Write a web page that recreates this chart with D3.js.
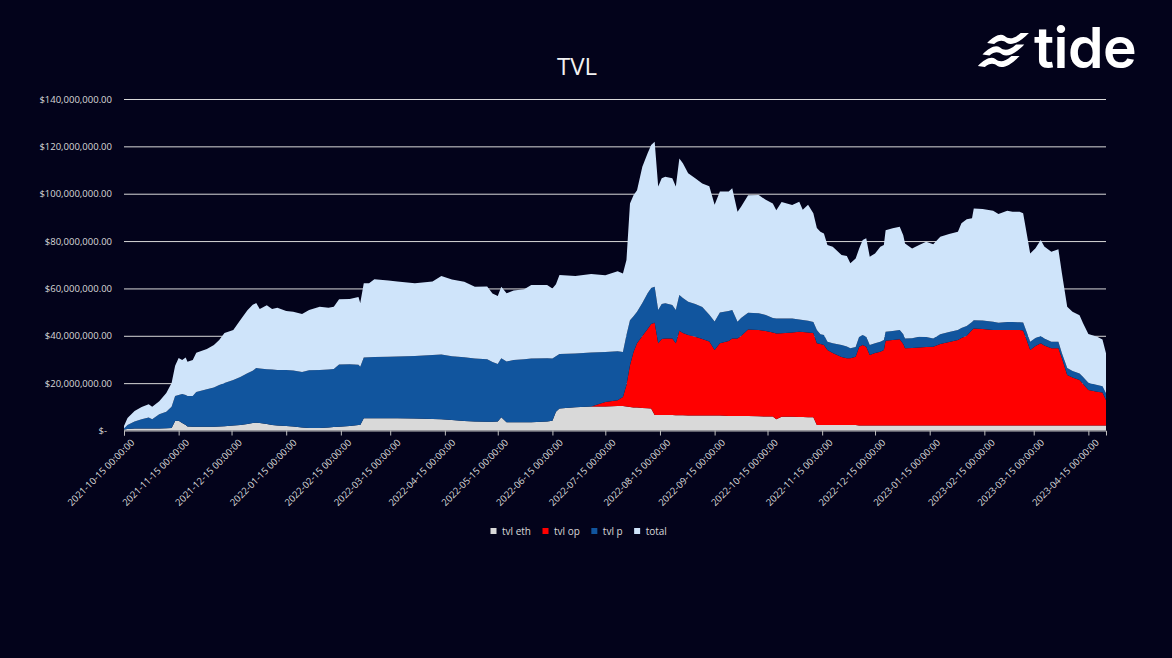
<!DOCTYPE html>
<html>
<head>
<meta charset="utf-8">
<script src="https://cdn.jsdelivr.net/npm/d3@7"></script>
<style>
  html, body { margin: 0; padding: 0; background: #03031b; }
  svg { display: block; }
</style>
</head>
<body>
<svg id="chart" width="1172" height="658"></svg>
<script>
// dates of the samples
var dates = [
  "2021-10-15","2021-10-17","2021-10-21","2021-10-25","2021-10-29","2021-10-31","2021-11-04","2021-11-08","2021-11-11","2021-11-13",
  "2021-11-15","2021-11-17","2021-11-19","2021-11-20","2021-11-23","2021-11-25","2021-12-01","2021-12-05","2021-12-08","2021-12-11",
  "2021-12-16","2021-12-20","2021-12-24","2021-12-27","2021-12-29","2021-12-31","2022-01-04","2022-01-07","2022-01-10","2022-01-15",
  "2022-01-19","2022-01-24","2022-01-28","2022-02-03","2022-02-08","2022-02-11","2022-02-14","2022-02-20","2022-02-25","2022-02-26",
  "2022-02-28","2022-03-03","2022-03-06","2022-03-14","2022-03-19","2022-03-29","2022-04-08","2022-04-13","2022-04-19","2022-04-26",
  "2022-05-02","2022-05-09","2022-05-12","2022-05-15","2022-05-17","2022-05-20","2022-05-24","2022-05-30","2022-06-03","2022-06-12",
  "2022-06-15","2022-06-17","2022-06-19","2022-06-28","2022-07-07","2022-07-15","2022-07-22","2022-07-25","2022-07-27","2022-07-29",
  "2022-07-31","2022-08-02","2022-08-05","2022-08-08","2022-08-10","2022-08-12","2022-08-14","2022-08-16","2022-08-18","2022-08-22",
  "2022-08-24","2022-08-26","2022-08-28","2022-08-31","2022-09-04","2022-09-08","2022-09-12","2022-09-15","2022-09-18","2022-09-23",
  "2022-09-25","2022-09-28","2022-09-30","2022-10-04","2022-10-10","2022-10-14","2022-10-18","2022-10-20","2022-10-23","2022-10-29",
  "2022-11-02","2022-11-04","2022-11-07","2022-11-10","2022-11-12","2022-11-14","2022-11-16","2022-11-18","2022-11-21","2022-11-26",
  "2022-11-29","2022-12-01","2022-12-04","2022-12-06","2022-12-08","2022-12-10","2022-12-12","2022-12-15","2022-12-18","2022-12-20",
  "2022-12-21","2022-12-25","2022-12-29","2022-12-31","2023-01-01","2023-01-05","2023-01-09","2023-01-13","2023-01-17","2023-01-21",
  "2023-01-26","2023-01-31","2023-02-02","2023-02-05","2023-02-08","2023-02-09","2023-02-14","2023-02-20","2023-02-23","2023-02-28",
  "2023-03-03","2023-03-07","2023-03-09","2023-03-11","2023-03-13","2023-03-16","2023-03-19","2023-03-21","2023-03-25","2023-03-29",
  "2023-03-31","2023-04-03","2023-04-06","2023-04-10","2023-04-12","2023-04-15","2023-04-20","2023-04-23","2023-04-25"
];

// series values, millions of dollars
var tvlEth = [
  0.4,0.6,0.8,0.8,0.8,0.8,0.8,0.9,1.1,4.0,
  4.1,3.2,2.3,1.7,1.6,1.6,1.6,1.6,1.7,1.8,
  2.1,2.3,2.7,3.2,3.3,3.2,2.7,2.3,2.1,1.9,
  1.7,1.3,1.1,1.1,1.3,1.5,1.6,1.9,2.3,2.3,
  5.2,5.2,5.2,5.2,5.2,5.1,4.9,4.7,4.4,4.0,
  3.8,3.7,3.7,3.8,5.6,3.5,3.5,3.5,3.5,3.8,
  4.1,7.9,9.3,9.8,10.1,10.1,10.3,10.3,10.1,9.9,
  9.7,9.7,9.5,9.4,9.3,6.5,6.5,6.5,6.5,6.5,
  6.4,6.4,6.4,6.3,6.3,6.3,6.3,6.3,6.3,6.1,
  6.1,6.1,6.1,6.1,6.0,5.9,5.9,4.7,5.8,5.8,
  5.7,5.7,5.6,5.6,2.3,2.3,2.3,2.3,2.3,2.3,
  2.3,2.3,2.3,2.1,2.1,2.1,2.1,2.1,2.1,2.1,
  2.1,2.1,2.1,2.1,2.1,2.1,2.1,2.1,2.1,2.1,
  2.1,2.1,2.1,2.1,2.1,2.1,2.1,2.1,2.1,2.1,
  2.1,2.1,2.1,2.1,2.1,2.1,2.1,2.1,2.1,2.1,
  2.1,2.1,2.1,2.1,2.1,2.1,2.1,2.1,2.1
];

var tvlOp = [
  0,0,0,0,0,0,0,0,0,0,
  0,0,0,0,0,0,0,0,0,0,
  0,0,0,0,0,0,0,0,0,0,
  0,0,0,0,0,0,0,0,0,0,
  0,0,0,0,0,0,0,0,0,0,
  0,0,0,0,0,0,0,0,0,0,
  0,0,0,0,0,1.9,2.5,3.9,9.1,17.7,
  23.4,27.2,30.4,33.5,35.7,39.0,30.3,32.1,32.4,32.4,
  30.4,35.7,34.8,34.0,33.3,32.3,31.3,27.7,30.6,31.7,
  32.8,32.8,33.8,36.6,36.4,36.1,35.5,36.3,35.3,35.6,
  36.0,35.9,35.8,35.6,34.5,34.2,33.8,31.7,30.4,28.7,
  28.2,28.2,28.8,33.3,34.0,33.3,29.8,30.6,31.2,31.9,
  35.8,36.1,36.4,34.4,32.6,32.7,33.0,33.2,33.3,34.4,
  35.3,36.1,37.0,37.9,40.3,41.0,40.8,40.3,40.3,40.3,
  40.3,40.3,40.1,36.1,31.9,33.6,34.7,33.8,32.6,32.6,
  28.4,21.3,20.3,19.2,17.5,15.0,14.3,13.9,10.8
];

var tvlP = [
  0.4,1.7,3.0,4.0,4.7,4.0,6.1,7.0,8.9,10.6,
  10.9,12.2,12.7,12.9,13.0,14.7,15.8,16.6,17.5,18.3,
  19.2,20.3,21.5,22.0,23.1,23.0,23.2,23.5,23.4,23.6,
  23.6,23.4,24.3,24.5,24.5,24.5,26.3,26.1,25.5,24.6,
  25.6,25.7,25.8,25.9,26.0,26.4,27.0,27.4,27.0,26.9,
  26.6,26.4,25.2,24.3,24.9,25.6,26.3,26.6,26.9,26.7,
  26.3,23.5,23.0,22.7,22.8,21.1,20.7,19.0,21.1,19.0,
  15.2,13.2,13.9,15.1,15.2,15.2,14.1,14.8,14.8,14.1,
  14.1,15.1,14.8,14.1,13.8,13.6,11.3,12.0,12.9,12.7,
  12.0,7.0,7.6,7.0,7.1,6.8,6.1,6.3,6.2,5.9,
  5.2,5.1,4.9,4.6,5.6,4.2,4.2,3.5,4.2,5.1,
  5.0,4.2,4.2,4.2,4.2,4.2,4.2,4.2,4.2,4.2,
  3.8,3.8,3.9,4.2,4.2,4.2,4.5,4.2,3.5,4.2,
  4.2,4.2,4.2,4.1,3.4,3.5,3.6,3.5,3.1,3.4,
  3.4,3.3,3.4,3.4,3.5,3.4,3.1,3.0,2.8,2.8,
  2.1,3.0,2.7,2.8,3.0,3.1,2.8,2.7,2.8
];

var total = [
  1.1,3.0,4.4,5.1,5.6,5.2,5.5,7.9,10.1,12.7,
  15.6,14.4,15.8,14.4,15.2,16.5,17.0,17.9,19.0,21.1,
  21.1,24.1,26.6,27.9,27.4,25.1,27.0,25.5,26.3,25.0,
  24.9,24.5,25.5,26.7,26.0,26.3,27.5,27.5,28.6,26.9,
  31.4,31.3,32.9,32.2,31.7,30.7,31.0,33.1,32.4,31.9,
  30.3,30.7,29.0,28.7,30.2,28.9,29.3,29.6,31.0,31.0,
  29.6,30.4,33.4,32.7,33.2,32.5,33.8,33.1,31.7,49.3,
  51.1,51.4,57.6,59.1,60.4,61.2,52.1,53.1,53.5,53.5,
  52.1,57.7,56.9,54.2,53.1,52.1,54.2,49.3,51.1,50.4,
  51.4,46.5,47.0,49.7,50.0,48.6,48.4,45.7,49.2,47.9,
  49.7,46.5,49.0,45.9,43.1,43.2,42.9,40.8,40.7,38.0,
  38.2,35.9,37.3,37.3,40.1,41.6,37.3,37.9,40.1,40.1,
  42.9,43.4,43.6,41.8,40.1,37.9,38.7,40.2,39.8,41.1,
  41.4,41.5,44.2,45.1,43.8,47.2,47.0,46.9,45.9,47.0,
  46.6,46.7,46.1,41.7,37.3,37.9,40.5,38.8,38.0,39.0,
  33.8,25.9,25.0,24.6,22.7,20.6,20.4,19.7,16.9
];

var seriesNames = ["tvl eth", "tvl op", "tvl p", "total"];
var seriesColors = ["#d9d9d9", "#ff0000", "#11559e", "#cfe4fa"];
var yTicks = [0, 20, 40, 60, 80, 100, 120, 140];
var xTickDates = [
  "2021-10-15","2021-11-15","2021-12-15","2022-01-15","2022-02-15","2022-03-15","2022-04-15",
  "2022-05-15","2022-06-15","2022-07-15","2022-08-15","2022-09-15","2022-10-15","2022-11-15",
  "2022-12-15","2023-01-15","2023-02-15","2023-03-15","2023-04-15"
];
var xStart = "2021-10-15", xEnd = "2023-04-25";

var parse = d3.timeParse("%Y-%m-%d");
var font = "'Open Sans', sans-serif";
var labelColor = "#d9d9d9";

// chart area
var margin = { top: 99, left: 124, right: 66, bottom: 227.5 };
var W = 1172, H = 658;
var width = W - margin.left - margin.right;
var height = H - margin.top - margin.bottom;

var svg = d3.select("#chart");

// build table for stacking
var rows = dates.map(function(d, i) {
  return { date: parse(d), "tvl eth": tvlEth[i], "tvl op": tvlOp[i], "tvl p": tvlP[i], "total": total[i] };
});

var x = d3.scaleTime()
  .domain([parse(xStart), parse(xEnd)])
  .range([0, width]);

var y = d3.scaleLinear()
  .domain([0, 140])
  .range([height, 0]);

var color = d3.scaleOrdinal().domain(seriesNames).range(seriesColors);

var g = svg.append("g")
  .attr("transform", "translate(" + margin.left + "," + margin.top + ")");

// gridlines + y labels
var moneyFmt = d3.format(",.2f");
var yAxis = d3.axisLeft(y)
  .tickValues(yTicks)
  .tickSize(-width)
  .tickPadding(12)
  .tickFormat(function(v) { return v === 0 ? "$-" : "$" + moneyFmt(v * 1e6); });

var yg = g.append("g").attr("class", "y-axis").call(yAxis);
yg.select(".domain").remove();
yg.selectAll(".tick line")
  .attr("stroke", "#d9d9d9")
  .attr("stroke-width", 1)
  .filter(function(d) { return d === 0; }).remove();
yg.selectAll(".tick text")
  .attr("fill", labelColor)
  .style("font-family", font)
  .style("font-size", "9.5px")
  .attr("dx", function(d) { return d === 0 ? -5 : 0; });

// stacked areas
var stack = d3.stack().keys(seriesNames);
var layers = stack(rows);

var area = d3.area()
  .x(function(d) { return x(d.data.date); })
  .y0(function(d) { return y(d[0]); })
  .y1(function(d) { return y(d[1]); });

g.selectAll(".layer")
  .data(layers)
  .enter()
  .append("path")
  .attr("class", "layer")
  .attr("d", area)
  .attr("fill", function(d) { return color(d.key); })
  .attr("stroke", "none");

// x axis
var timeFmt = d3.timeFormat("%Y-%m-%d 00:00:00");
var xAxis = d3.axisBottom(x)
  .tickValues(xTickDates.map(parse))
  .tickSize(5)
  .tickPadding(3)
  .tickFormat(timeFmt);

var xg = g.append("g")
  .attr("class", "x-axis")
  .attr("transform", "translate(0," + height + ")")
  .call(xAxis);
xg.select(".domain").attr("stroke", "#bfbfbf");
xg.selectAll(".tick line").attr("stroke", "#bfbfbf");
xg.selectAll(".tick text")
  .attr("fill", labelColor)
  .style("font-family", font)
  .style("font-size", "9.5px")
  .attr("text-anchor", "end")
  .attr("dy", 0)
  .attr("transform", "translate(5,7) rotate(-45)");

// title
svg.append("text")
  .attr("x", 577)
  .attr("y", 74.5)
  .attr("text-anchor", "middle")
  .attr("fill", "#f2f2f2")
  .style("font-family", font)
  .style("font-size", "24px")
  .text("TVL");

// legend
var legend = svg.append("g").attr("class", "legend");
var lx = 490.5;
seriesNames.forEach(function(name) {
  legend.append("rect")
    .attr("x", lx)
    .attr("y", 528)
    .attr("width", 6)
    .attr("height", 6)
    .attr("fill", color(name));
  var t = legend.append("text")
    .attr("x", lx + 11.5)
    .attr("y", 534.5)
    .attr("fill", labelColor)
    .style("font-family", font)
    .style("font-size", "10px")
    .text(name);
  lx = lx + 11.5 + t.node().getComputedTextLength() + 11.5;
});

// tide logo, top right: three slanted wave stripes + wordmark
var logo = svg.append("g").attr("transform", "translate(992,31) skewX(-22) scale(0.82,1)");
var wave = "M0,12 C5,5 11,2 18,5 C24,8 30,9 36,2 L46,2 C40,11 32,15 24,12 C18,9 13,9 9,13 Z";
[0, 11.5, 23].forEach(function(dy) {
  logo.append("path")
    .attr("d", wave)
    .attr("transform", "translate(0," + dy + ")")
    .attr("fill", "#ffffff");
});
svg.append("text")
  .attr("x", 1034)
  .attr("y", 68)
  .attr("fill", "#ffffff")
  .style("font-family", "Inter, 'Open Sans', sans-serif")
  .style("font-weight", 600)
  .style("font-size", "57px")
  .style("letter-spacing", "-0.5px")
  .text("tide");
</script>
</body>
</html>
